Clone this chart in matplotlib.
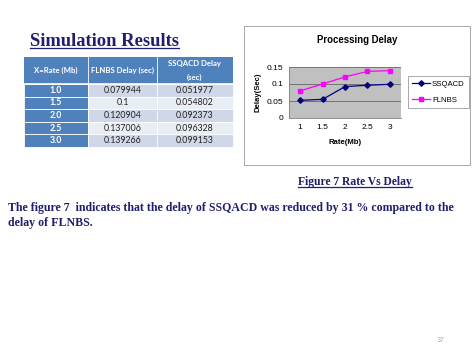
import matplotlib.pyplot as plt
from matplotlib.patches import Rectangle

# data
rates = ["1.0", "1.5", "2.0", "2.5", "3.0"]
flnbs_txt = ["0.079944", "0.1", "0.120904", "0.137006", "0.139266"]
ssqacd_txt = ["0.051977", "0.054802", "0.092373", "0.096328", "0.099153"]
flnbs = [0.079944, 0.1, 0.120904, 0.137006, 0.139266]
ssqacd = [0.051977, 0.054802, 0.092373, 0.096328, 0.099153]
x_labels = ["1", "1.5", "2", "2.5", "3"]
headers = ["X=Rate (Mb)", "FLNBS Delay (sec)", "SSQACD Delay\n(sec)"]

W, H = 474, 355
navy = "#1f1f6e"
fig = plt.figure(figsize=(W / 100, H / 100), dpi=100)
fig.patch.set_facecolor("white")

# overlay axis in pixel coordinates for slide elements
bg = fig.add_axes([0, 0, 1, 1])
bg.set_xlim(0, W)
bg.set_ylim(H, 0)
bg.axis("off")

serif = "Liberation Serif"
sans = "Liberation Sans"

def underlined(x, y, s, size, color=navy, ha="left"):
    t = bg.text(x, y, s, fontsize=size, fontweight="bold", family=serif,
                color=color, ha=ha, va="baseline")
    fig.canvas.draw()
    bb = t.get_window_extent().transformed(bg.transData.inverted())
    bg.plot([bb.x0, bb.x1], [y + 1.5, y + 1.5], color=color, lw=0.9)
    return t

underlined(30, 46, "Simulation Results", 13.3)

# table
col_x = [24, 88, 157, 233]
head_top, head_bot = 57, 84
row_h = (147 - head_bot) / 5
blue = "#4f81bd"
light = ["#cfd7e8", "#e9edf4"]
bg.add_patch(Rectangle((col_x[0], head_top), col_x[3] - col_x[0], head_bot - head_top,
                       facecolor=blue, edgecolor="none"))
for j, h in enumerate(headers):
    cx = (col_x[j] + col_x[j + 1]) / 2
    cy = (head_top + head_bot) / 2
    bg.text(cx, cy, h, fontsize=5.6, fontweight="bold", color="white", family="Lato",
            ha="center", va="center", linespacing=2.0)
for i in range(5):
    y0 = head_bot + i * row_h
    bg.add_patch(Rectangle((col_x[0], y0), col_x[1] - col_x[0], row_h,
                           facecolor=blue, edgecolor="white", lw=0.6))
    bg.add_patch(Rectangle((col_x[1], y0), col_x[3] - col_x[1], row_h,
                           facecolor=light[i % 2], edgecolor="white", lw=0.6))
    vals = [rates[i], flnbs_txt[i], ssqacd_txt[i]]
    for j, v in enumerate(vals):
        cx = (col_x[j] + col_x[j + 1]) / 2
        bg.text(cx, y0 + row_h / 2, v, fontsize=6.3, family="Lato",
                fontweight="bold" if j == 0 else "normal",
                color="white" if j == 0 else "#222222", ha="center", va="center")
bg.plot([col_x[0], col_x[3]], [head_bot, head_bot], color="white", lw=1.2)
for cx in col_x[1:3]:
    bg.plot([cx, cx], [head_top, 147], color="white", lw=0.6)

# chart frame
bg.add_patch(Rectangle((244, 26), 226, 139, facecolor="white", edgecolor="#9a9a9a", lw=0.6))
bg.text(357, 40, "Processing Delay", fontsize=6.9, fontweight="bold", family=sans,
        ha="center", va="center")

# the chart
l, r, t, b = 289, 401, 67, 118
ax = fig.add_axes([l / W, 1 - b / H, (r - l) / W, (b - t) / H])
ax.set_facecolor("#c0c0c0")
xs = range(len(x_labels))
ax.plot(xs, ssqacd, color="#000080", marker="D", ms=2.8, lw=0.9, label="SSQACD")
ax.plot(xs, flnbs, color="#ff00ff", marker="s", ms=3.0, lw=0.9, label="FLNBS")
ax.set_xlim(-0.5, 4.5)
ax.set_ylim(0, 0.15)
ax.set_yticks([0, 0.05, 0.1, 0.15])
ax.set_yticklabels(["0", "0.05", "0.1", "0.15"])
ax.set_xticks(list(xs))
ax.set_xticklabels(x_labels)
for y in [0.05, 0.1, 0.15]:
    ax.axhline(y, color="#555555", lw=0.5, zorder=0)
for s in ax.spines.values():
    s.set_color("#808080")
    s.set_linewidth(0.6)
ax.spines["top"].set_visible(False)
ax.spines["right"].set_visible(False)
ax.tick_params(length=0, labelsize=6.0, pad=4)
for lab in ax.get_xticklabels() + ax.get_yticklabels():
    lab.set_family(sans)
ax.set_xlabel("Rate(Mb)", fontsize=5.6, fontweight="bold", family=sans, labelpad=6)
ax.set_ylabel("Delay(Sec)", fontsize=5.6, fontweight="bold", family=sans, labelpad=4)
leg = ax.legend(loc="center left", bbox_to_anchor=(408 / W, 1 - 92 / H),
                bbox_transform=fig.transFigure, frameon=True,
                fancybox=False, edgecolor="#808080", handlelength=2.3,
                borderpad=0.5, labelspacing=1.1, handletextpad=0.3,
                borderaxespad=0, prop={"family": sans, "size": 5.6})
leg.get_frame().set_linewidth(0.6)

underlined(355, 185, "Figure 7 Rate Vs Delay", 8.4, ha="center")

bg.text(8, 211, "The figure 7  indicates that the delay of SSQACD was reduced by 31 % compared to the",
        fontsize=8.6, fontweight="bold", family=serif, color=navy, va="baseline")
bg.text(8, 226, "delay of FLNBS.",
        fontsize=8.6, fontweight="bold", family=serif, color=navy, va="baseline")
bg.text(441, 340, "37", fontsize=5, color="#aaaaaa", family=sans, ha="center", va="center")

fig.savefig("out.png", dpi=100)
